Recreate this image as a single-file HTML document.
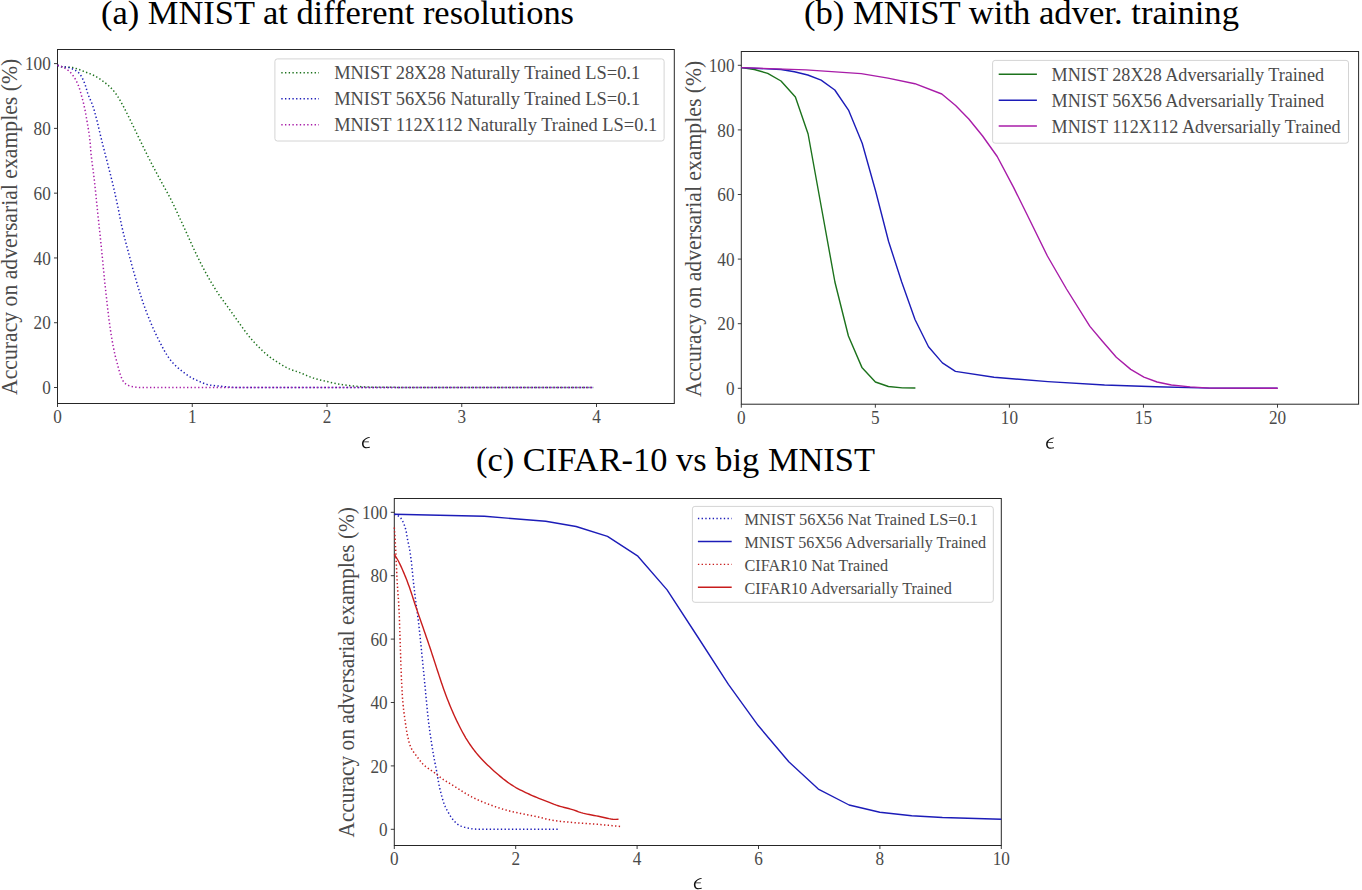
<!DOCTYPE html>
<html><head><meta charset="utf-8"><style>
html,body{margin:0;padding:0;background:#fff;}
svg{display:block;}
text{font-family:'Liberation Serif', serif;}
</style></head><body>
<svg width="1362" height="890" viewBox="0 0 1362 890">
<rect width="1362" height="890" fill="#fff"/>
<text x="101" y="24" font-size="34.6" fill="#000" textLength="473" lengthAdjust="spacingAndGlyphs">(a) MNIST at different resolutions</text>
<text x="804" y="24" font-size="34.6" fill="#000" textLength="435" lengthAdjust="spacingAndGlyphs">(b) MNIST with adver. training</text>
<text x="476" y="471" font-size="34.6" fill="#000" textLength="399" lengthAdjust="spacingAndGlyphs">(c) CIFAR-10 vs big MNIST</text>
<rect x="57.5" y="49.5" width="616.8" height="354.0" fill="none" stroke="#262626" stroke-width="1.0"/>
<line x1="57.5" y1="403.5" x2="57.5" y2="407.0" stroke="#262626" stroke-width="0.9"/>
<text x="57.5" y="423" text-anchor="middle" font-size="18.5" fill="#4a4a4a" transform="translate(57.5,423) scale(0.93,1) translate(-57.5,-423)">0</text>
<line x1="192.25" y1="403.5" x2="192.25" y2="407.0" stroke="#262626" stroke-width="0.9"/>
<text x="192.25" y="423" text-anchor="middle" font-size="18.5" fill="#4a4a4a" transform="translate(192.25,423) scale(0.93,1) translate(-192.25,-423)">1</text>
<line x1="327.0" y1="403.5" x2="327.0" y2="407.0" stroke="#262626" stroke-width="0.9"/>
<text x="327.0" y="423" text-anchor="middle" font-size="18.5" fill="#4a4a4a" transform="translate(327.0,423) scale(0.93,1) translate(-327.0,-423)">2</text>
<line x1="461.75" y1="403.5" x2="461.75" y2="407.0" stroke="#262626" stroke-width="0.9"/>
<text x="461.75" y="423" text-anchor="middle" font-size="18.5" fill="#4a4a4a" transform="translate(461.75,423) scale(0.93,1) translate(-461.75,-423)">3</text>
<line x1="596.5" y1="403.5" x2="596.5" y2="407.0" stroke="#262626" stroke-width="0.9"/>
<text x="596.5" y="423" text-anchor="middle" font-size="18.5" fill="#4a4a4a" transform="translate(596.5,423) scale(0.93,1) translate(-596.5,-423)">4</text>
<line x1="54.0" y1="387.5" x2="57.5" y2="387.5" stroke="#262626" stroke-width="0.9"/>
<text x="50.8" y="394.2" text-anchor="end" font-size="18.5" fill="#4a4a4a" transform="translate(50.8,394.2) scale(0.93,1) translate(-50.8,-394.2)">0</text>
<line x1="54.0" y1="322.72" x2="57.5" y2="322.72" stroke="#262626" stroke-width="0.9"/>
<text x="50.8" y="329.42" text-anchor="end" font-size="18.5" fill="#4a4a4a" transform="translate(50.8,329.42) scale(0.93,1) translate(-50.8,-329.42)">20</text>
<line x1="54.0" y1="257.94" x2="57.5" y2="257.94" stroke="#262626" stroke-width="0.9"/>
<text x="50.8" y="264.64" text-anchor="end" font-size="18.5" fill="#4a4a4a" transform="translate(50.8,264.64) scale(0.93,1) translate(-50.8,-264.64)">40</text>
<line x1="54.0" y1="193.16000000000003" x2="57.5" y2="193.16000000000003" stroke="#262626" stroke-width="0.9"/>
<text x="50.8" y="199.86" text-anchor="end" font-size="18.5" fill="#4a4a4a" transform="translate(50.8,199.86) scale(0.93,1) translate(-50.8,-199.86)">60</text>
<line x1="54.0" y1="128.38" x2="57.5" y2="128.38" stroke="#262626" stroke-width="0.9"/>
<text x="50.8" y="135.07999999999998" text-anchor="end" font-size="18.5" fill="#4a4a4a" transform="translate(50.8,135.07999999999998) scale(0.93,1) translate(-50.8,-135.07999999999998)">80</text>
<line x1="54.0" y1="63.60000000000002" x2="57.5" y2="63.60000000000002" stroke="#262626" stroke-width="0.9"/>
<text x="50.8" y="70.30000000000003" text-anchor="end" font-size="18.5" fill="#4a4a4a" transform="translate(50.8,70.30000000000003) scale(0.93,1) translate(-50.8,-70.30000000000003)">100</text>
<path d="M57.50,65.30 L59.52,66.04 L61.80,66.70 L63.64,66.94 L65.77,67.05 L68.06,67.13 L70.38,67.28 L72.60,67.60 L74.77,68.13 L76.91,68.78 L79.05,69.54 L81.20,70.36 L83.40,71.20 L85.46,71.98 L87.57,72.78 L89.70,73.62 L91.83,74.52 L93.94,75.51 L96.00,76.60 L97.87,77.70 L99.76,78.91 L101.64,80.19 L103.48,81.53 L105.26,82.89 L106.94,84.26 L108.50,85.60 L110.14,87.12 L111.63,88.62 L113.02,90.15 L114.36,91.76 L115.70,93.50 L116.96,95.29 L118.17,97.17 L119.35,99.13 L120.52,101.18 L121.70,103.31 L122.90,105.50 L123.79,107.13 L124.68,108.84 L125.58,110.59 L126.49,112.39 L127.40,114.22 L128.31,116.07 L129.22,117.92 L130.12,119.77 L131.02,121.60 L131.90,123.40 L132.85,125.33 L133.78,127.25 L134.70,129.16 L135.61,131.06 L136.53,132.98 L137.45,134.90 L138.38,136.84 L139.33,138.80 L140.30,140.80 L141.19,142.62 L142.09,144.47 L143.00,146.35 L143.92,148.24 L144.85,150.15 L145.79,152.06 L146.73,153.98 L147.67,155.88 L148.61,157.78 L149.56,159.65 L150.50,161.50 L151.50,163.44 L152.50,165.37 L153.51,167.28 L154.52,169.18 L155.53,171.08 L156.54,172.97 L157.55,174.85 L158.57,176.74 L159.58,178.62 L160.60,180.50 L161.61,182.36 L162.63,184.22 L163.66,186.07 L164.69,187.91 L165.72,189.76 L166.74,191.60 L167.76,193.45 L168.76,195.29 L169.74,197.14 L170.70,199.00 L171.62,200.83 L172.53,202.66 L173.42,204.49 L174.29,206.33 L175.16,208.17 L176.02,210.00 L176.87,211.84 L177.71,213.67 L178.56,215.49 L179.40,217.30 L180.30,219.24 L181.19,221.17 L182.07,223.10 L182.95,225.02 L183.82,226.93 L184.69,228.85 L185.55,230.76 L186.43,232.68 L187.30,234.60 L188.18,236.53 L189.05,238.46 L189.92,240.40 L190.80,242.34 L191.67,244.28 L192.55,246.20 L193.43,248.12 L194.31,250.02 L195.20,251.90 L196.16,253.91 L197.13,255.91 L198.09,257.90 L199.06,259.87 L200.04,261.82 L201.02,263.76 L202.00,265.69 L203.00,267.60 L203.97,269.43 L204.94,271.24 L205.92,273.04 L206.91,274.82 L207.90,276.59 L208.90,278.35 L209.90,280.08 L210.90,281.80 L212.00,283.65 L213.10,285.47 L214.20,287.28 L215.31,289.07 L216.43,290.83 L217.56,292.58 L218.70,294.30 L219.99,296.19 L221.30,298.04 L222.63,299.86 L223.95,301.66 L225.28,303.47 L226.60,305.30 L227.92,307.15 L229.24,309.00 L230.56,310.85 L231.87,312.70 L233.19,314.55 L234.50,316.40 L235.81,318.25 L237.11,320.11 L238.42,321.96 L239.72,323.81 L241.01,325.62 L242.30,327.40 L243.70,329.33 L245.07,331.20 L246.44,333.05 L247.87,334.91 L249.40,336.80 L250.75,338.39 L252.18,340.03 L253.67,341.69 L255.19,343.34 L256.72,344.96 L258.23,346.52 L259.70,348.00 L261.45,349.72 L263.18,351.36 L264.90,352.94 L266.64,354.45 L268.40,355.90 L270.08,357.21 L271.76,358.44 L273.47,359.63 L275.24,360.81 L277.10,362.00 L278.73,363.02 L280.45,364.07 L282.22,365.14 L284.03,366.18 L285.83,367.17 L287.60,368.09 L289.30,368.90 L291.66,369.86 L293.93,370.62 L296.23,371.34 L298.70,372.20 L300.63,372.96 L302.66,373.81 L304.76,374.71 L306.91,375.62 L309.08,376.51 L311.25,377.35 L313.40,378.10 L315.48,378.74 L317.57,379.33 L319.67,379.87 L321.78,380.38 L323.88,380.86 L325.99,381.33 L328.10,381.80 L330.17,382.26 L332.20,382.71 L334.23,383.15 L336.28,383.57 L338.37,383.97 L340.54,384.34 L342.80,384.70 L344.63,384.96 L346.54,385.21 L348.50,385.45 L350.50,385.68 L352.54,385.90 L354.60,386.10 L356.67,386.30 L358.74,386.47 L360.79,386.63 L362.82,386.77 L364.80,386.90 L366.84,387.01 L368.86,387.09 L370.85,387.15 L372.84,387.19 L374.82,387.22 L376.80,387.24 L378.81,387.25 L380.84,387.27 L382.90,387.28 L385.00,387.30 L386.92,387.32 L388.75,387.34 L390.52,387.35 L392.28,387.36 L394.06,387.37 L395.89,387.38 L397.82,387.38 L399.86,387.38 L402.07,387.39 L404.47,387.39 L407.10,387.39 L410.00,387.40 L411.11,387.40 L412.25,387.40 L413.44,387.41 L414.67,387.41 L415.93,387.41 L417.23,387.41 L418.57,387.41 L419.94,387.41 L421.35,387.42 L422.80,387.42 L424.28,387.42 L425.79,387.42 L427.33,387.42 L428.91,387.42 L430.52,387.42 L432.16,387.42 L433.82,387.42 L435.52,387.43 L437.25,387.43 L439.00,387.43 L440.79,387.43 L442.59,387.43 L444.43,387.43 L446.29,387.43 L448.17,387.43 L450.08,387.43 L452.02,387.43 L453.97,387.43 L455.95,387.43 L457.95,387.43 L459.96,387.43 L462.00,387.43 L464.06,387.43 L466.14,387.43 L468.23,387.43 L470.34,387.43 L472.47,387.43 L474.62,387.43 L476.78,387.43 L478.95,387.43 L481.14,387.43 L483.34,387.43 L485.55,387.43 L487.78,387.43 L490.02,387.42 L492.26,387.42 L494.52,387.42 L496.79,387.42 L499.06,387.42 L501.35,387.42 L503.64,387.42 L505.93,387.42 L508.23,387.42 L510.54,387.42 L512.85,387.42 L515.17,387.42 L517.49,387.42 L519.81,387.42 L522.13,387.42 L524.46,387.42 L526.78,387.41 L529.11,387.41 L531.43,387.41 L533.75,387.41 L536.07,387.41 L538.39,387.41 L540.70,387.41 L543.01,387.41 L545.32,387.41 L547.62,387.41 L549.91,387.41 L552.19,387.41 L554.47,387.41 L556.74,387.41 L559.00,387.41 L561.25,387.40 L563.49,387.40 L565.72,387.40 L567.94,387.40 L570.15,387.40 L572.34,387.40 L574.52,387.40 L576.68,387.40 L578.83,387.40 L580.96,387.40 L583.08,387.40 L585.18,387.40 L587.27,387.40 L589.33,387.40 L591.37,387.40 L593.40,387.40" fill="none" stroke="#1c721c" stroke-width="1.5" stroke-dasharray="1.35 2.35"/>
<path d="M57.50,65.30 L59.57,66.04 L61.80,66.70 L64.03,66.96 L66.48,67.11 L69.00,67.60 L70.99,68.31 L73.10,69.21 L75.21,70.30 L77.19,71.57 L78.90,73.00 L80.28,74.61 L81.45,76.41 L82.47,78.37 L83.40,80.42 L84.30,82.50 L85.08,84.48 L85.76,86.56 L86.38,88.71 L86.99,90.87 L87.62,92.98 L88.30,95.00 L89.12,97.06 L89.98,99.03 L90.86,100.97 L91.71,102.94 L92.50,105.00 L93.15,106.92 L93.76,108.85 L94.34,110.82 L94.91,112.86 L95.49,115.01 L96.10,117.30 L96.57,119.10 L97.05,120.99 L97.53,122.97 L98.03,125.01 L98.52,127.10 L99.03,129.24 L99.53,131.40 L100.05,133.57 L100.56,135.73 L101.08,137.88 L101.60,140.00 L102.10,142.01 L102.61,144.03 L103.13,146.08 L103.65,148.13 L104.18,150.19 L104.71,152.26 L105.24,154.31 L105.77,156.35 L106.29,158.38 L106.80,160.38 L107.31,162.36 L107.80,164.30 L108.32,166.35 L108.84,168.35 L109.34,170.32 L109.84,172.26 L110.34,174.18 L110.83,176.11 L111.32,178.06 L111.81,180.03 L112.30,182.04 L112.80,184.10 L113.26,186.07 L113.73,188.09 L114.21,190.15 L114.68,192.25 L115.16,194.36 L115.63,196.48 L116.10,198.60 L116.56,200.70 L117.01,202.79 L117.45,204.84 L117.88,206.85 L118.30,208.80 L118.75,210.98 L119.17,213.08 L119.56,215.11 L119.94,217.12 L120.32,219.12 L120.71,221.15 L121.13,223.24 L121.59,225.41 L122.10,227.70 L122.51,229.47 L122.96,231.34 L123.44,233.29 L123.95,235.30 L124.47,237.37 L125.02,239.47 L125.57,241.60 L126.13,243.72 L126.69,245.84 L127.24,247.93 L127.79,249.97 L128.32,251.96 L128.83,253.87 L129.32,255.69 L129.78,257.41 L130.20,259.00 L130.83,261.40 L131.38,263.48 L131.89,265.41 L132.41,267.34 L133.00,269.45 L133.70,271.90 L134.15,273.46 L134.63,275.13 L135.15,276.90 L135.68,278.75 L136.24,280.68 L136.83,282.68 L137.43,284.74 L138.05,286.84 L138.69,288.97 L139.35,291.13 L140.01,293.29 L140.69,295.46 L141.38,297.62 L142.08,299.76 L142.78,301.87 L143.48,303.94 L144.19,305.95 L144.90,307.90 L145.62,309.83 L146.35,311.76 L147.09,313.69 L147.84,315.61 L148.61,317.53 L149.38,319.44 L150.16,321.33 L150.95,323.22 L151.75,325.09 L152.56,326.94 L153.37,328.78 L154.20,330.60 L155.03,332.39 L155.86,334.16 L156.70,335.90 L157.55,337.62 L158.40,339.30 L159.37,341.20 L160.33,343.09 L161.29,344.95 L162.25,346.79 L163.22,348.61 L164.19,350.39 L165.19,352.14 L166.22,353.86 L167.27,355.53 L168.36,357.17 L169.49,358.76 L170.67,360.31 L171.90,361.80 L173.37,363.43 L174.95,365.04 L176.61,366.61 L178.33,368.13 L180.09,369.60 L181.86,371.01 L183.61,372.35 L185.32,373.60 L186.98,374.77 L188.54,375.84 L190.00,376.80 L192.33,378.19 L194.48,379.26 L196.57,380.18 L198.70,381.10 L200.81,382.07 L202.89,383.01 L205.05,383.88 L207.40,384.60 L209.22,385.00 L211.16,385.31 L213.19,385.56 L215.27,385.76 L217.36,385.94 L219.42,386.11 L221.40,386.30 L223.44,386.52 L225.40,386.74 L227.34,386.94 L229.31,387.12 L231.38,387.28 L233.60,387.40 L235.49,387.47 L237.47,387.51 L239.53,387.52 L241.65,387.52 L243.82,387.50 L246.03,387.48 L248.27,387.45 L250.52,387.43 L252.77,387.41 L255.00,387.40 L256.93,387.40 L258.73,387.40 L260.46,387.40 L262.15,387.40 L263.86,387.40 L265.63,387.40 L267.50,387.40 L269.52,387.40 L271.74,387.40 L274.19,387.40 L276.93,387.40 L280.00,387.40 L280.90,387.40 L281.83,387.40 L282.78,387.40 L283.77,387.40 L284.78,387.40 L285.82,387.40 L286.88,387.40 L287.98,387.40 L289.10,387.40 L290.24,387.40 L291.42,387.40 L292.61,387.40 L293.84,387.40 L295.09,387.40 L296.36,387.40 L297.66,387.40 L298.98,387.40 L300.33,387.40 L301.70,387.40 L303.09,387.40 L304.51,387.40 L305.95,387.40 L307.41,387.40 L308.90,387.40 L310.41,387.40 L311.94,387.40 L313.49,387.40 L315.06,387.40 L316.66,387.40 L318.27,387.40 L319.90,387.40 L321.56,387.40 L323.24,387.40 L324.93,387.40 L326.64,387.40 L328.38,387.40 L330.13,387.40 L331.90,387.40 L333.69,387.40 L335.50,387.40 L337.32,387.40 L339.16,387.40 L341.02,387.40 L342.90,387.40 L344.79,387.40 L346.70,387.40 L348.63,387.40 L350.57,387.40 L352.53,387.40 L354.50,387.40 L356.49,387.40 L358.49,387.40 L360.50,387.40 L362.53,387.40 L364.58,387.40 L366.64,387.40 L368.71,387.40 L370.79,387.40 L372.89,387.40 L375.00,387.40 L377.12,387.40 L379.25,387.40 L381.40,387.40 L383.55,387.40 L385.72,387.40 L387.90,387.40 L390.09,387.40 L392.29,387.40 L394.50,387.40 L396.71,387.40 L398.94,387.40 L401.18,387.40 L403.43,387.40 L405.68,387.40 L407.94,387.40 L410.22,387.40 L412.49,387.40 L414.78,387.40 L417.07,387.40 L419.37,387.40 L421.68,387.40 L424.00,387.40 L426.31,387.40 L428.64,387.40 L430.97,387.40 L433.31,387.40 L435.65,387.40 L437.99,387.40 L440.34,387.40 L442.70,387.40 L445.06,387.40 L447.42,387.40 L449.79,387.40 L452.15,387.40 L454.52,387.40 L456.90,387.40 L459.27,387.40 L461.65,387.40 L464.03,387.40 L466.41,387.40 L468.79,387.40 L471.18,387.40 L473.56,387.40 L475.94,387.40 L478.33,387.40 L480.71,387.40 L483.09,387.40 L485.48,387.40 L487.86,387.40 L490.24,387.40 L492.61,387.40 L494.99,387.40 L497.36,387.40 L499.73,387.40 L502.10,387.40 L504.47,387.40 L506.83,387.40 L509.19,387.40 L511.54,387.40 L513.89,387.40 L516.24,387.40 L518.58,387.40 L520.92,387.40 L523.25,387.40 L525.57,387.40 L527.89,387.40 L530.21,387.40 L532.51,387.40 L534.81,387.40 L537.11,387.40 L539.39,387.40 L541.67,387.40 L543.94,387.40 L546.21,387.40 L548.46,387.40 L550.71,387.40 L552.95,387.40 L555.17,387.40 L557.39,387.40 L559.60,387.40 L561.80,387.40 L563.99,387.40 L566.17,387.40 L568.33,387.40 L570.49,387.40 L572.64,387.40 L574.77,387.40 L576.89,387.40 L579.00,387.40 L581.10,387.40 L583.18,387.40 L585.25,387.40 L587.31,387.40 L589.35,387.40 L591.38,387.40 L593.40,387.40" fill="none" stroke="#1c1cb8" stroke-width="1.5" stroke-dasharray="1.35 2.35"/>
<path d="M57.50,65.30 L59.61,65.92 L61.80,66.70 L63.87,67.68 L66.05,68.88 L68.10,70.30 L70.03,72.03 L71.82,74.00 L73.50,76.20 L74.60,77.89 L75.64,79.72 L76.63,81.64 L77.55,83.62 L78.40,85.60 L79.16,87.62 L79.83,89.69 L80.44,91.78 L81.02,93.89 L81.60,96.00 L82.18,98.10 L82.73,100.18 L83.27,102.29 L83.79,104.45 L84.30,106.70 L84.71,108.63 L85.11,110.62 L85.50,112.65 L85.88,114.72 L86.26,116.83 L86.63,118.96 L87.00,121.10 L87.36,123.17 L87.72,125.28 L88.09,127.42 L88.44,129.58 L88.79,131.75 L89.12,133.92 L89.43,136.07 L89.70,138.20 L89.93,140.22 L90.11,142.20 L90.27,144.15 L90.41,146.11 L90.56,148.09 L90.71,150.12 L90.89,152.22 L91.10,154.40 L91.31,156.27 L91.53,158.19 L91.77,160.16 L92.03,162.17 L92.30,164.21 L92.57,166.28 L92.85,168.38 L93.13,170.51 L93.41,172.64 L93.68,174.79 L93.95,176.94 L94.20,179.10 L94.43,181.13 L94.66,183.17 L94.88,185.23 L95.10,187.30 L95.32,189.38 L95.53,191.48 L95.75,193.60 L95.96,195.72 L96.18,197.87 L96.40,200.02 L96.62,202.19 L96.84,204.38 L97.07,206.58 L97.30,208.80 L97.50,210.71 L97.70,212.63 L97.91,214.57 L98.11,216.51 L98.32,218.46 L98.53,220.43 L98.74,222.40 L98.95,224.38 L99.16,226.38 L99.37,228.39 L99.59,230.41 L99.80,232.44 L100.02,234.49 L100.23,236.54 L100.45,238.61 L100.67,240.69 L100.88,242.79 L101.10,244.90 L101.30,246.84 L101.49,248.80 L101.69,250.78 L101.89,252.78 L102.08,254.79 L102.28,256.82 L102.47,258.85 L102.67,260.90 L102.87,262.96 L103.07,265.03 L103.26,267.10 L103.46,269.17 L103.67,271.25 L103.87,273.34 L104.08,275.42 L104.29,277.50 L104.50,279.58 L104.71,281.66 L104.93,283.73 L105.15,285.79 L105.37,287.85 L105.60,289.90 L105.83,291.95 L106.06,294.03 L106.29,296.12 L106.53,298.23 L106.76,300.34 L107.00,302.47 L107.24,304.59 L107.48,306.72 L107.73,308.85 L107.97,310.97 L108.22,313.08 L108.47,315.18 L108.73,317.26 L108.99,319.33 L109.25,321.37 L109.52,323.39 L109.79,325.38 L110.06,327.34 L110.34,329.27 L110.62,331.15 L110.91,333.00 L111.20,334.80 L111.59,337.12 L111.97,339.38 L112.35,341.59 L112.74,343.75 L113.13,345.87 L113.53,347.95 L113.94,349.99 L114.36,352.01 L114.80,354.00 L115.26,355.97 L115.75,357.92 L116.26,359.86 L116.80,361.80 L117.38,363.92 L117.95,366.10 L118.52,368.32 L119.11,370.53 L119.72,372.71 L120.37,374.82 L121.07,376.82 L121.84,378.68 L122.69,380.37 L123.64,381.86 L124.70,383.10 L126.62,384.59 L128.77,385.61 L131.08,386.29 L133.48,386.77 L135.90,387.20 L137.77,387.46 L139.67,387.59 L141.59,387.61 L143.57,387.56 L145.62,387.48 L147.76,387.42 L150.00,387.40 L151.74,387.41 L153.40,387.42 L155.04,387.42 L156.68,387.42 L158.38,387.42 L160.16,387.42 L162.07,387.42 L164.15,387.41 L166.45,387.41 L168.99,387.40 L171.83,387.40 L175.00,387.40 L175.80,387.40 L176.62,387.40 L177.46,387.40 L178.33,387.40 L179.22,387.40 L180.13,387.40 L181.07,387.40 L182.02,387.40 L183.00,387.40 L184.00,387.40 L185.02,387.40 L186.06,387.40 L187.13,387.40 L188.21,387.40 L189.32,387.40 L190.45,387.40 L191.59,387.40 L192.76,387.40 L193.95,387.40 L195.16,387.40 L196.39,387.40 L197.64,387.40 L198.90,387.40 L200.19,387.40 L201.50,387.40 L202.82,387.40 L204.17,387.40 L205.53,387.40 L206.91,387.40 L208.31,387.40 L209.73,387.40 L211.17,387.40 L212.62,387.40 L214.09,387.40 L215.58,387.40 L217.09,387.40 L218.61,387.40 L220.15,387.40 L221.71,387.40 L223.29,387.40 L224.88,387.40 L226.49,387.40 L228.11,387.40 L229.75,387.40 L231.41,387.40 L233.08,387.40 L234.77,387.40 L236.47,387.40 L238.19,387.40 L239.92,387.40 L241.67,387.40 L243.43,387.40 L245.21,387.40 L247.00,387.40 L248.81,387.40 L250.63,387.40 L252.46,387.40 L254.31,387.40 L256.17,387.40 L258.05,387.40 L259.94,387.40 L261.84,387.40 L263.75,387.40 L265.68,387.40 L267.62,387.40 L269.57,387.40 L271.54,387.40 L273.51,387.40 L275.50,387.40 L277.50,387.40 L279.51,387.40 L281.53,387.40 L283.57,387.40 L285.61,387.40 L287.67,387.40 L289.74,387.40 L291.82,387.40 L293.90,387.40 L296.00,387.40 L298.11,387.40 L300.23,387.40 L302.36,387.40 L304.49,387.40 L306.64,387.40 L308.80,387.40 L310.96,387.40 L313.13,387.40 L315.32,387.40 L317.51,387.40 L319.71,387.40 L321.92,387.40 L324.13,387.40 L326.36,387.40 L328.59,387.40 L330.83,387.40 L333.07,387.40 L335.33,387.40 L337.59,387.40 L339.86,387.40 L342.13,387.40 L344.41,387.40 L346.70,387.40 L348.99,387.40 L351.29,387.40 L353.60,387.40 L355.91,387.40 L358.23,387.40 L360.55,387.40 L362.88,387.40 L365.21,387.40 L367.55,387.40 L369.89,387.40 L372.24,387.40 L374.59,387.40 L376.95,387.40 L379.30,387.40 L381.67,387.40 L384.04,387.40 L386.41,387.40 L388.78,387.40 L391.16,387.40 L393.54,387.40 L395.92,387.40 L398.31,387.40 L400.70,387.40 L403.09,387.40 L405.48,387.40 L407.88,387.40 L410.27,387.40 L412.67,387.40 L415.07,387.40 L417.48,387.40 L419.88,387.40 L422.28,387.40 L424.69,387.40 L427.09,387.40 L429.50,387.40 L431.91,387.40 L434.31,387.40 L436.72,387.40 L439.13,387.40 L441.53,387.40 L443.94,387.40 L446.35,387.40 L448.75,387.40 L451.16,387.40 L453.56,387.40 L455.96,387.40 L458.36,387.40 L460.76,387.40 L463.15,387.40 L465.55,387.40 L467.94,387.40 L470.33,387.40 L472.72,387.40 L475.11,387.40 L477.49,387.40 L479.87,387.40 L482.24,387.40 L484.62,387.40 L486.99,387.40 L489.35,387.40 L491.71,387.40 L494.07,387.40 L496.43,387.40 L498.78,387.40 L501.12,387.40 L503.46,387.40 L505.80,387.40 L508.13,387.40 L510.46,387.40 L512.78,387.40 L515.09,387.40 L517.40,387.40 L519.71,387.40 L522.00,387.40 L524.30,387.40 L526.58,387.40 L528.86,387.40 L531.13,387.40 L533.40,387.40 L535.66,387.40 L537.91,387.40 L540.15,387.40 L542.39,387.40 L544.62,387.40 L546.84,387.40 L549.05,387.40 L551.26,387.40 L553.46,387.40 L555.64,387.40 L557.82,387.40 L559.99,387.40 L562.16,387.40 L564.31,387.40 L566.45,387.40 L568.59,387.40 L570.71,387.40 L572.83,387.40 L574.93,387.40 L577.03,387.40 L579.11,387.40 L581.19,387.40 L583.25,387.40 L585.30,387.40 L587.34,387.40 L589.37,387.40 L591.39,387.40 L593.40,387.40" fill="none" stroke="#a81ca8" stroke-width="1.5" stroke-dasharray="1.35 2.35"/>
<rect x="274.9" y="58.9" width="389.2" height="82.1" rx="2.5" fill="#fff" fill-opacity="0.8" stroke="#d4d4d4" stroke-width="1"/>
<line x1="281.3" y1="72.8" x2="318.9" y2="72.8" stroke="#1c721c" stroke-width="1.5" stroke-dasharray="1.35 2.35"/>
<text x="334.2" y="79.39999999999999" font-size="18.4" fill="#4a4a4a" textLength="306" lengthAdjust="spacingAndGlyphs">MNIST 28X28 Naturally Trained LS=0.1</text>
<line x1="281.3" y1="98.8" x2="318.9" y2="98.8" stroke="#1c1cb8" stroke-width="1.5" stroke-dasharray="1.35 2.35"/>
<text x="334.2" y="105.39999999999999" font-size="18.4" fill="#4a4a4a" textLength="306" lengthAdjust="spacingAndGlyphs">MNIST 56X56 Naturally Trained LS=0.1</text>
<line x1="281.3" y1="124.8" x2="318.9" y2="124.8" stroke="#a81ca8" stroke-width="1.5" stroke-dasharray="1.35 2.35"/>
<text x="334.2" y="131.4" font-size="18.4" fill="#4a4a4a" textLength="323" lengthAdjust="spacingAndGlyphs">MNIST 112X112 Naturally Trained LS=0.1</text>
<rect x="741.3" y="51.5" width="617.3" height="352.7" fill="none" stroke="#262626" stroke-width="1.0"/>
<line x1="741.3" y1="404.2" x2="741.3" y2="407.7" stroke="#262626" stroke-width="0.9"/>
<text x="741.3" y="424" text-anchor="middle" font-size="18.5" fill="#4a4a4a" transform="translate(741.3,424) scale(0.93,1) translate(-741.3,-424)">0</text>
<line x1="875.3499999999999" y1="404.2" x2="875.3499999999999" y2="407.7" stroke="#262626" stroke-width="0.9"/>
<text x="875.3499999999999" y="424" text-anchor="middle" font-size="18.5" fill="#4a4a4a" transform="translate(875.3499999999999,424) scale(0.93,1) translate(-875.3499999999999,-424)">5</text>
<line x1="1009.4" y1="404.2" x2="1009.4" y2="407.7" stroke="#262626" stroke-width="0.9"/>
<text x="1009.4" y="424" text-anchor="middle" font-size="18.5" fill="#4a4a4a" transform="translate(1009.4,424) scale(0.93,1) translate(-1009.4,-424)">10</text>
<line x1="1143.45" y1="404.2" x2="1143.45" y2="407.7" stroke="#262626" stroke-width="0.9"/>
<text x="1143.45" y="424" text-anchor="middle" font-size="18.5" fill="#4a4a4a" transform="translate(1143.45,424) scale(0.93,1) translate(-1143.45,-424)">15</text>
<line x1="1277.5" y1="404.2" x2="1277.5" y2="407.7" stroke="#262626" stroke-width="0.9"/>
<text x="1277.5" y="424" text-anchor="middle" font-size="18.5" fill="#4a4a4a" transform="translate(1277.5,424) scale(0.93,1) translate(-1277.5,-424)">20</text>
<line x1="737.8" y1="388.3" x2="741.3" y2="388.3" stroke="#262626" stroke-width="0.9"/>
<text x="734.5" y="395.0" text-anchor="end" font-size="18.5" fill="#4a4a4a" transform="translate(734.5,395.0) scale(0.93,1) translate(-734.5,-395.0)">0</text>
<line x1="737.8" y1="323.70000000000005" x2="741.3" y2="323.70000000000005" stroke="#262626" stroke-width="0.9"/>
<text x="734.5" y="330.40000000000003" text-anchor="end" font-size="18.5" fill="#4a4a4a" transform="translate(734.5,330.40000000000003) scale(0.93,1) translate(-734.5,-330.40000000000003)">20</text>
<line x1="737.8" y1="259.1" x2="741.3" y2="259.1" stroke="#262626" stroke-width="0.9"/>
<text x="734.5" y="265.8" text-anchor="end" font-size="18.5" fill="#4a4a4a" transform="translate(734.5,265.8) scale(0.93,1) translate(-734.5,-265.8)">40</text>
<line x1="737.8" y1="194.5" x2="741.3" y2="194.5" stroke="#262626" stroke-width="0.9"/>
<text x="734.5" y="201.2" text-anchor="end" font-size="18.5" fill="#4a4a4a" transform="translate(734.5,201.2) scale(0.93,1) translate(-734.5,-201.2)">60</text>
<line x1="737.8" y1="129.90000000000003" x2="741.3" y2="129.90000000000003" stroke="#262626" stroke-width="0.9"/>
<text x="734.5" y="136.60000000000002" text-anchor="end" font-size="18.5" fill="#4a4a4a" transform="translate(734.5,136.60000000000002) scale(0.93,1) translate(-734.5,-136.60000000000002)">80</text>
<line x1="737.8" y1="65.30000000000001" x2="741.3" y2="65.30000000000001" stroke="#262626" stroke-width="0.9"/>
<text x="734.5" y="72.00000000000001" text-anchor="end" font-size="18.5" fill="#4a4a4a" transform="translate(734.5,72.00000000000001) scale(0.93,1) translate(-734.5,-72.00000000000001)">100</text>
<path d="M741.30,67.60 L754.30,69.50 L767.70,73.40 L781.00,81.00 L795.40,97.00 L808.10,134.00 L821.50,208.00 L834.90,282.00 L848.40,336.00 L861.90,367.40 L875.40,382.00 L888.40,386.50 L902.40,387.90 L915.40,388.00" fill="none" stroke="#1c721c" stroke-width="1.4" stroke-linejoin="round"/>
<path d="M741.30,67.60 L781.00,69.50 L794.40,71.70 L807.80,75.00 L821.10,80.10 L834.80,90.00 L848.50,110.10 L862.20,143.30 L875.60,191.00 L888.60,241.50 L901.70,282.00 L915.00,319.50 L928.50,346.80 L942.40,362.90 L955.40,371.40 L994.00,377.30 L1047.90,381.60 L1104.50,385.00 L1155.90,386.80 L1209.90,388.10 L1277.50,388.30" fill="none" stroke="#1c1cb8" stroke-width="1.4" stroke-linejoin="round"/>
<path d="M741.30,67.60 L805.90,69.90 L861.20,73.60 L888.00,78.10 L914.90,83.70 L941.80,94.00 L955.60,105.50 L968.80,119.00 L982.60,136.00 L997.20,156.50 L1013.70,187.60 L1030.60,221.80 L1047.40,256.00 L1066.50,289.00 L1089.90,326.40 L1102.00,340.70 L1116.30,357.30 L1130.70,369.40 L1143.90,377.10 L1157.10,382.00 L1171.40,385.00 L1190.10,386.90 L1210.00,388.10 L1277.80,388.30" fill="none" stroke="#a81ca8" stroke-width="1.4" stroke-linejoin="round"/>
<rect x="992.6" y="60.4" width="355.9" height="82.8" rx="2.5" fill="#fff" fill-opacity="0.8" stroke="#d4d4d4" stroke-width="1"/>
<line x1="998.7" y1="74.3" x2="1036.9" y2="74.3" stroke="#1c721c" stroke-width="1.5"/>
<text x="1051.6" y="81.39999999999999" font-size="18.1" fill="#4a4a4a" textLength="272.5" lengthAdjust="spacingAndGlyphs">MNIST 28X28 Adversarially Trained</text>
<line x1="998.7" y1="100.15" x2="1036.9" y2="100.15" stroke="#1c1cb8" stroke-width="1.5"/>
<text x="1051.6" y="107.25" font-size="18.1" fill="#4a4a4a" textLength="272.5" lengthAdjust="spacingAndGlyphs">MNIST 56X56 Adversarially Trained</text>
<line x1="998.7" y1="126.0" x2="1036.9" y2="126.0" stroke="#a81ca8" stroke-width="1.5"/>
<text x="1051.6" y="133.1" font-size="18.1" fill="#4a4a4a" textLength="289" lengthAdjust="spacingAndGlyphs">MNIST 112X112 Adversarially Trained</text>
<rect x="394.3" y="498.5" width="607.0" height="347.0" fill="none" stroke="#262626" stroke-width="1.0"/>
<line x1="394.3" y1="845.5" x2="394.3" y2="849.0" stroke="#262626" stroke-width="0.9"/>
<text x="394.3" y="864.7" text-anchor="middle" font-size="18.5" fill="#4a4a4a" transform="translate(394.3,864.7) scale(0.93,1) translate(-394.3,-864.7)">0</text>
<line x1="515.7" y1="845.5" x2="515.7" y2="849.0" stroke="#262626" stroke-width="0.9"/>
<text x="515.7" y="864.7" text-anchor="middle" font-size="18.5" fill="#4a4a4a" transform="translate(515.7,864.7) scale(0.93,1) translate(-515.7,-864.7)">2</text>
<line x1="637.1" y1="845.5" x2="637.1" y2="849.0" stroke="#262626" stroke-width="0.9"/>
<text x="637.1" y="864.7" text-anchor="middle" font-size="18.5" fill="#4a4a4a" transform="translate(637.1,864.7) scale(0.93,1) translate(-637.1,-864.7)">4</text>
<line x1="758.5" y1="845.5" x2="758.5" y2="849.0" stroke="#262626" stroke-width="0.9"/>
<text x="758.5" y="864.7" text-anchor="middle" font-size="18.5" fill="#4a4a4a" transform="translate(758.5,864.7) scale(0.93,1) translate(-758.5,-864.7)">6</text>
<line x1="879.9000000000001" y1="845.5" x2="879.9000000000001" y2="849.0" stroke="#262626" stroke-width="0.9"/>
<text x="879.9000000000001" y="864.7" text-anchor="middle" font-size="18.5" fill="#4a4a4a" transform="translate(879.9000000000001,864.7) scale(0.93,1) translate(-879.9000000000001,-864.7)">8</text>
<line x1="1001.3" y1="845.5" x2="1001.3" y2="849.0" stroke="#262626" stroke-width="0.9"/>
<text x="1001.3" y="864.7" text-anchor="middle" font-size="18.5" fill="#4a4a4a" transform="translate(1001.3,864.7) scale(0.93,1) translate(-1001.3,-864.7)">10</text>
<line x1="390.8" y1="829.3" x2="394.3" y2="829.3" stroke="#262626" stroke-width="0.9"/>
<text x="387.7" y="836.0" text-anchor="end" font-size="18.5" fill="#4a4a4a" transform="translate(387.7,836.0) scale(0.93,1) translate(-387.7,-836.0)">0</text>
<line x1="390.8" y1="765.9" x2="394.3" y2="765.9" stroke="#262626" stroke-width="0.9"/>
<text x="387.7" y="772.6" text-anchor="end" font-size="18.5" fill="#4a4a4a" transform="translate(387.7,772.6) scale(0.93,1) translate(-387.7,-772.6)">20</text>
<line x1="390.8" y1="702.5" x2="394.3" y2="702.5" stroke="#262626" stroke-width="0.9"/>
<text x="387.7" y="709.2" text-anchor="end" font-size="18.5" fill="#4a4a4a" transform="translate(387.7,709.2) scale(0.93,1) translate(-387.7,-709.2)">40</text>
<line x1="390.8" y1="639.0999999999999" x2="394.3" y2="639.0999999999999" stroke="#262626" stroke-width="0.9"/>
<text x="387.7" y="645.8" text-anchor="end" font-size="18.5" fill="#4a4a4a" transform="translate(387.7,645.8) scale(0.93,1) translate(-387.7,-645.8)">60</text>
<line x1="390.8" y1="575.6999999999999" x2="394.3" y2="575.6999999999999" stroke="#262626" stroke-width="0.9"/>
<text x="387.7" y="582.4" text-anchor="end" font-size="18.5" fill="#4a4a4a" transform="translate(387.7,582.4) scale(0.93,1) translate(-387.7,-582.4)">80</text>
<line x1="390.8" y1="512.3" x2="394.3" y2="512.3" stroke="#262626" stroke-width="0.9"/>
<text x="387.7" y="519.0" text-anchor="end" font-size="18.5" fill="#4a4a4a" transform="translate(387.7,519.0) scale(0.93,1) translate(-387.7,-519.0)">100</text>
<path d="M394.30,514.30 L396.14,514.94 L397.90,515.70 L399.35,516.59 L400.70,517.90 L401.66,519.33 L402.64,521.15 L403.59,523.22 L404.46,525.39 L405.20,527.50 L405.80,529.66 L406.26,531.89 L406.63,534.16 L406.99,536.44 L407.40,538.70 L407.86,540.94 L408.35,543.18 L408.83,545.41 L409.28,547.65 L409.70,549.90 L410.07,552.12 L410.40,554.30 L410.71,556.51 L411.00,558.79 L411.30,561.20 L411.52,563.13 L411.73,565.12 L411.94,567.17 L412.14,569.26 L412.34,571.41 L412.55,573.58 L412.77,575.78 L413.00,578.00 L413.22,580.03 L413.45,582.10 L413.69,584.20 L413.93,586.33 L414.18,588.48 L414.44,590.64 L414.70,592.82 L414.96,595.01 L415.23,597.21 L415.50,599.40 L415.76,601.49 L416.04,603.58 L416.32,605.66 L416.60,607.75 L416.89,609.86 L417.18,611.98 L417.47,614.12 L417.76,616.28 L418.04,618.48 L418.32,620.72 L418.60,623.00 L418.83,624.97 L419.06,626.99 L419.29,629.04 L419.51,631.13 L419.74,633.24 L419.96,635.38 L420.18,637.52 L420.40,639.68 L420.62,641.84 L420.84,643.99 L421.06,646.14 L421.27,648.27 L421.48,650.37 L421.69,652.45 L421.90,654.50 L422.12,656.68 L422.34,658.85 L422.56,661.01 L422.77,663.17 L422.98,665.31 L423.19,667.45 L423.40,669.56 L423.61,671.67 L423.81,673.75 L424.01,675.82 L424.21,677.87 L424.41,679.90 L424.60,681.90 L424.80,684.00 L425.00,686.08 L425.20,688.14 L425.39,690.18 L425.58,692.20 L425.77,694.21 L425.96,696.19 L426.14,698.15 L426.33,700.09 L426.51,702.00 L426.70,703.90 L426.92,706.19 L427.14,708.43 L427.36,710.64 L427.57,712.82 L427.79,714.98 L428.02,717.13 L428.25,719.26 L428.50,721.40 L428.75,723.44 L429.01,725.46 L429.27,727.46 L429.54,729.45 L429.82,731.45 L430.11,733.45 L430.40,735.46 L430.70,737.50 L431.02,739.66 L431.35,741.84 L431.69,744.05 L432.04,746.25 L432.40,748.46 L432.76,750.66 L433.13,752.84 L433.50,755.00 L433.87,757.04 L434.24,759.04 L434.62,761.03 L435.01,763.01 L435.40,765.00 L435.80,767.00 L436.20,769.03 L436.60,771.10 L436.98,773.15 L437.34,775.23 L437.70,777.34 L438.06,779.47 L438.43,781.61 L438.82,783.76 L439.24,785.89 L439.70,788.01 L440.20,790.10 L440.72,792.18 L441.25,794.26 L441.80,796.35 L442.37,798.42 L442.98,800.48 L443.65,802.52 L444.38,804.52 L445.20,806.49 L446.10,808.40 L447.09,810.32 L448.16,812.28 L449.29,814.25 L450.49,816.18 L451.76,818.04 L453.08,819.80 L454.47,821.42 L455.91,822.86 L457.40,824.10 L459.13,825.21 L460.96,826.10 L462.86,826.81 L464.82,827.38 L466.82,827.84 L468.82,828.23 L470.80,828.60 L472.78,828.90 L474.79,829.07 L476.81,829.16 L478.85,829.18 L480.89,829.18 L482.94,829.17 L485.00,829.20 L487.03,829.24 L488.97,829.27 L490.88,829.28 L492.86,829.29 L494.98,829.29 L497.34,829.29 L500.00,829.30 L501.40,829.30 L502.89,829.31 L504.46,829.31 L506.11,829.31 L507.83,829.32 L509.62,829.32 L511.47,829.32 L513.38,829.32 L515.35,829.32 L517.36,829.32 L519.42,829.32 L521.51,829.32 L523.65,829.32 L525.81,829.32 L527.99,829.32 L530.20,829.31 L532.42,829.31 L534.66,829.31 L536.90,829.31 L539.14,829.31 L541.38,829.31 L543.61,829.31 L545.82,829.30 L548.02,829.30 L550.20,829.30 L552.35,829.30 L554.47,829.30 L556.56,829.30 L558.60,829.30" fill="none" stroke="#1c1cb8" stroke-width="1.5" stroke-dasharray="1.35 2.35"/>
<path d="M394.30,514.30 L484.40,516.30 L545.70,521.30 L576.10,526.50 L607.50,536.40 L637.90,556.20 L667.10,589.90 L697.80,637.00 L728.40,684.40 L758.00,725.30 L788.80,761.80 L818.30,789.10 L849.10,805.00 L879.80,812.30 L911.70,815.70 L942.40,817.50 L1001.30,819.30" fill="none" stroke="#1c1cb8" stroke-width="1.4" stroke-linejoin="round"/>
<path d="M394.30,527.50 L394.46,529.68 L394.62,531.79 L394.78,533.94 L394.94,536.21 L395.10,538.70 L395.20,540.45 L395.30,542.32 L395.40,544.28 L395.50,546.31 L395.60,548.40 L395.70,550.53 L395.80,552.69 L395.90,554.85 L396.00,557.00 L396.10,559.13 L396.20,561.20 L396.30,563.24 L396.39,565.28 L396.49,567.32 L396.58,569.36 L396.67,571.40 L396.77,573.44 L396.87,575.48 L396.97,577.53 L397.07,579.58 L397.18,581.64 L397.30,583.70 L397.43,585.80 L397.57,587.89 L397.72,589.97 L397.87,592.04 L398.02,594.13 L398.18,596.22 L398.34,598.34 L398.49,600.49 L398.64,602.68 L398.77,604.91 L398.90,607.20 L399.00,609.11 L399.09,611.09 L399.18,613.11 L399.26,615.18 L399.34,617.28 L399.42,619.40 L399.50,621.54 L399.57,623.69 L399.64,625.83 L399.71,627.96 L399.78,630.08 L399.84,632.16 L399.91,634.20 L399.97,636.19 L400.04,638.13 L400.10,640.00 L400.18,642.34 L400.25,644.60 L400.32,646.80 L400.39,648.95 L400.46,651.07 L400.52,653.16 L400.59,655.23 L400.66,657.31 L400.73,659.39 L400.80,661.50 L400.87,663.56 L400.94,665.60 L401.01,667.64 L401.09,669.66 L401.16,671.69 L401.24,673.71 L401.32,675.74 L401.40,677.78 L401.50,679.83 L401.60,681.90 L401.70,683.88 L401.80,685.89 L401.91,687.91 L402.02,689.95 L402.13,691.99 L402.26,694.03 L402.38,696.05 L402.52,698.06 L402.67,700.05 L402.83,701.99 L403.00,703.90 L403.23,706.20 L403.48,708.46 L403.74,710.68 L404.02,712.88 L404.30,715.05 L404.60,717.19 L404.90,719.30 L405.20,721.40 L405.51,723.57 L405.82,725.72 L406.13,727.85 L406.45,729.94 L406.80,732.00 L407.18,734.02 L407.60,736.00 L408.06,738.06 L408.54,740.10 L409.04,742.09 L409.60,744.03 L410.24,745.90 L411.00,747.70 L411.99,749.60 L413.12,751.38 L414.33,753.10 L415.61,754.79 L416.90,756.50 L418.25,758.31 L419.62,760.13 L421.05,761.93 L422.57,763.66 L424.20,765.30 L425.77,766.64 L427.48,767.90 L429.25,769.11 L431.04,770.28 L432.78,771.44 L434.40,772.60 L436.27,774.08 L438.00,775.52 L439.76,776.95 L441.70,778.40 L443.45,779.58 L445.28,780.75 L447.20,781.92 L449.21,783.13 L451.31,784.38 L453.50,785.70 L455.11,786.70 L456.77,787.76 L458.48,788.87 L460.23,790.01 L462.03,791.16 L463.87,792.33 L465.76,793.50 L467.68,794.65 L469.65,795.77 L471.66,796.86 L473.70,797.90 L475.48,798.75 L477.29,799.60 L479.15,800.43 L481.04,801.25 L482.96,802.06 L484.91,802.86 L486.89,803.64 L488.89,804.40 L490.92,805.15 L492.97,805.89 L495.03,806.61 L497.11,807.31 L499.20,807.99 L501.29,808.66 L503.40,809.30 L505.35,809.87 L507.38,810.42 L509.47,810.95 L511.61,811.48 L513.79,811.99 L516.00,812.48 L518.22,812.96 L520.45,813.43 L522.66,813.88 L524.85,814.32 L527.00,814.75 L529.11,815.17 L531.15,815.57 L533.12,815.96 L535.00,816.34 L536.78,816.70 L538.45,817.06 L540.00,817.40 L542.33,817.95 L544.34,818.46 L546.17,818.94 L547.96,819.38 L549.86,819.80 L552.00,820.20 L553.75,820.48 L555.60,820.74 L557.53,820.99 L559.53,821.22 L561.58,821.44 L563.67,821.65 L565.78,821.85 L567.89,822.05 L569.99,822.23 L572.07,822.42 L574.10,822.60 L576.10,822.77 L578.09,822.93 L580.07,823.08 L582.06,823.22 L584.04,823.35 L586.03,823.48 L588.02,823.62 L590.03,823.75 L592.04,823.89 L594.06,824.04 L596.10,824.20 L598.08,824.36 L600.07,824.54 L602.07,824.71 L604.08,824.89 L606.10,825.08 L608.13,825.27 L610.16,825.46 L612.19,825.65 L614.22,825.84 L616.25,826.03 L618.28,826.21 L620.30,826.40" fill="none" stroke="#c81c1c" stroke-width="1.5" stroke-dasharray="1.35 2.35"/>
<path d="M394.30,554.40 L395.55,556.33 L396.80,558.26 L398.10,560.50 L398.98,562.20 L399.91,564.11 L400.87,566.16 L401.84,568.30 L402.80,570.48 L403.73,572.63 L404.60,574.70 L405.39,576.61 L406.14,578.49 L406.86,580.35 L407.57,582.23 L408.27,584.14 L408.98,586.09 L409.70,588.10 L410.33,589.91 L410.94,591.70 L411.53,593.51 L412.13,595.35 L412.74,597.24 L413.37,599.20 L414.03,601.25 L414.74,603.41 L415.50,605.70 L416.03,607.28 L416.60,608.93 L417.18,610.64 L417.79,612.41 L418.42,614.24 L419.07,616.11 L419.73,618.03 L420.41,619.99 L421.10,621.98 L421.81,623.99 L422.52,626.03 L423.23,628.09 L423.95,630.16 L424.67,632.24 L425.39,634.33 L426.11,636.41 L426.83,638.48 L427.54,640.54 L428.23,642.58 L428.92,644.61 L429.60,646.60 L430.26,648.56 L430.93,650.57 L431.61,652.61 L432.29,654.67 L432.97,656.76 L433.66,658.87 L434.35,660.98 L435.04,663.11 L435.73,665.23 L436.41,667.34 L437.09,669.44 L437.77,671.52 L438.44,673.58 L439.11,675.60 L439.76,677.59 L440.41,679.54 L441.04,681.44 L441.66,683.28 L442.27,685.07 L442.86,686.79 L443.44,688.43 L444.00,690.00 L444.84,692.31 L445.63,694.46 L446.39,696.49 L447.13,698.42 L447.85,700.27 L448.57,702.08 L449.30,703.87 L450.04,705.67 L450.80,707.50 L451.61,709.42 L452.41,711.30 L453.21,713.15 L454.02,714.98 L454.84,716.81 L455.69,718.64 L456.57,720.50 L457.50,722.40 L458.45,724.31 L459.43,726.26 L460.44,728.23 L461.47,730.22 L462.53,732.21 L463.62,734.18 L464.73,736.13 L465.85,738.04 L467.00,739.90 L468.11,741.63 L469.22,743.32 L470.35,744.99 L471.50,746.63 L472.67,748.25 L473.89,749.86 L475.14,751.47 L476.44,753.08 L477.80,754.70 L479.09,756.19 L480.44,757.69 L481.82,759.19 L483.24,760.69 L484.70,762.18 L486.19,763.67 L487.70,765.15 L489.23,766.62 L490.77,768.07 L492.33,769.49 L493.90,770.90 L495.38,772.21 L496.88,773.52 L498.39,774.82 L499.92,776.12 L501.47,777.40 L503.03,778.67 L504.62,779.91 L506.22,781.13 L507.83,782.33 L509.47,783.49 L511.13,784.61 L512.80,785.70 L514.53,786.76 L516.31,787.79 L518.15,788.80 L520.02,789.78 L521.90,790.74 L523.79,791.66 L525.67,792.56 L527.52,793.42 L529.34,794.24 L531.10,795.03 L532.79,795.79 L534.40,796.50 L536.65,797.46 L538.79,798.32 L540.84,799.10 L542.83,799.83 L544.77,800.56 L546.70,801.30 L548.66,802.11 L550.51,802.89 L552.35,803.67 L554.28,804.44 L556.40,805.20 L558.17,805.76 L560.12,806.33 L562.20,806.89 L564.34,807.45 L566.49,808.01 L568.60,808.55 L570.61,809.08 L572.46,809.60 L574.10,810.10 L576.54,811.00 L578.61,811.86 L581.10,812.70 L582.84,813.16 L584.83,813.62 L587.00,814.09 L589.28,814.54 L591.64,814.99 L593.99,815.44 L596.29,815.87 L598.48,816.29 L600.50,816.70 L602.76,817.20 L604.98,817.72 L607.11,818.23 L609.14,818.68 L611.05,819.05 L612.80,819.30 L615.78,819.39 L618.50,819.30" fill="none" stroke="#c81c1c" stroke-width="1.4"/>
<rect x="692.4" y="506.4" width="300.9" height="95.9" rx="2.5" fill="#fff" fill-opacity="0.8" stroke="#d4d4d4" stroke-width="1"/>
<line x1="697.9" y1="518.5" x2="731.7" y2="518.5" stroke="#1c1cb8" stroke-width="1.4" stroke-dasharray="1.35 2.35"/>
<text x="744.5" y="524.8" font-size="16.2" fill="#4a4a4a" textLength="233.4" lengthAdjust="spacingAndGlyphs">MNIST 56X56 Nat Trained LS=0.1</text>
<line x1="697.9" y1="541.43" x2="731.7" y2="541.43" stroke="#1c1cb8" stroke-width="1.4" />
<text x="744.5" y="547.7299999999999" font-size="16.2" fill="#4a4a4a" textLength="241.6" lengthAdjust="spacingAndGlyphs">MNIST 56X56 Adversarially Trained</text>
<line x1="697.9" y1="564.36" x2="731.7" y2="564.36" stroke="#c81c1c" stroke-width="1.4" stroke-dasharray="1.35 2.35"/>
<text x="744.5" y="570.66" font-size="16.2" fill="#4a4a4a" >CIFAR10 Nat Trained</text>
<line x1="697.9" y1="587.29" x2="731.7" y2="587.29" stroke="#c81c1c" stroke-width="1.4" />
<text x="744.5" y="593.5899999999999" font-size="16.2" fill="#4a4a4a" textLength="207.4" lengthAdjust="spacingAndGlyphs">CIFAR10 Adversarially Trained</text>
<text x="0" y="0" font-size="22.6" fill="#4a4a4a" text-anchor="middle" textLength="336.2" lengthAdjust="spacingAndGlyphs" transform="translate(16.6,226.9) rotate(-90)">Accuracy on adversarial examples (%)</text>
<text x="0" y="0" font-size="22.6" fill="#4a4a4a" text-anchor="middle" textLength="336.3" lengthAdjust="spacingAndGlyphs" transform="translate(701.1,228.85) rotate(-90)">Accuracy on adversarial examples (%)</text>
<text x="0" y="0" font-size="22.6" fill="#4a4a4a" text-anchor="middle" textLength="330.4" lengthAdjust="spacingAndGlyphs" transform="translate(354.1,672.3) rotate(-90)">Accuracy on adversarial examples (%)</text>
<path d="M369.80,437.00 C367.40,437.15 364.50,438.50 362.90,440.60 C361.60,442.50 361.70,445.40 363.00,446.90 C364.30,448.40 366.70,448.50 369.80,447.70 L369.80,446.85 C367.00,447.50 365.10,447.30 364.30,446.30 C363.40,445.10 363.30,443.00 364.10,441.40 C365.10,439.40 367.20,438.00 369.75,437.75 Z" fill="#111"/><path d="M364.20,441.45 L368.90,441.45 L368.90,442.25 L364.00,442.25 Z" fill="#111"/>
<path d="M1053.90,437.50 C1051.50,437.65 1048.60,439.00 1047.00,441.10 C1045.70,443.00 1045.80,445.90 1047.10,447.40 C1048.40,448.90 1050.80,449.00 1053.90,448.20 L1053.90,447.35 C1051.10,448.00 1049.20,447.80 1048.40,446.80 C1047.50,445.60 1047.40,443.50 1048.20,441.90 C1049.20,439.90 1051.30,438.50 1053.85,438.25 Z" fill="#111"/><path d="M1048.30,441.95 L1053.00,441.95 L1053.00,442.75 L1048.10,442.75 Z" fill="#111"/>
<path d="M701.70,878.00 C699.30,878.15 696.40,879.50 694.80,881.60 C693.50,883.50 693.60,886.40 694.90,887.90 C696.20,889.40 698.60,889.50 701.70,888.70 L701.70,887.85 C698.90,888.50 697.00,888.30 696.20,887.30 C695.30,886.10 695.20,884.00 696.00,882.40 C697.00,880.40 699.10,879.00 701.65,878.75 Z" fill="#111"/><path d="M696.10,882.45 L700.80,882.45 L700.80,883.25 L695.90,883.25 Z" fill="#111"/>
</svg>
</body></html>
